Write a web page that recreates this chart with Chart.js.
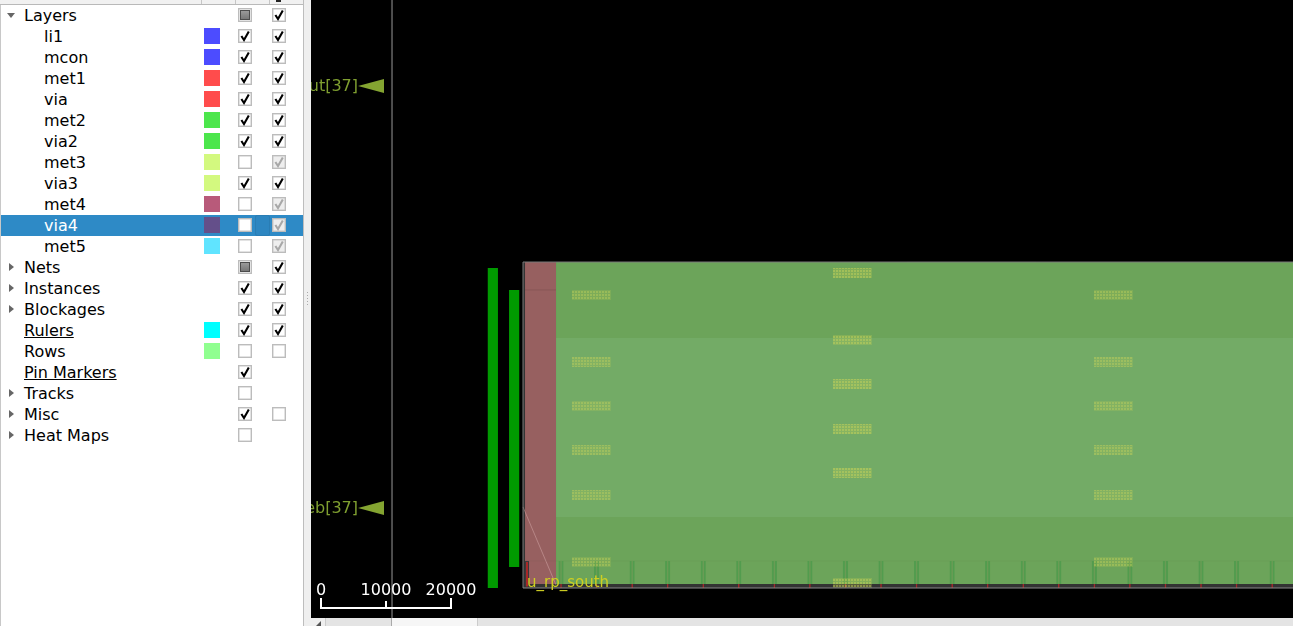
<!DOCTYPE html>
<html>
<head>
<meta charset="utf-8">
<title>Layout view</title>
<script src="https://cdn.jsdelivr.net/npm/chart.js@4"></script>
<style>
  html, body { margin: 0; padding: 0; width: 1293px; height: 626px; overflow: hidden; background: #efefef; }
  #panel { position: absolute; left: 0; top: 0; width: 303px; height: 626px; background: #fff; border-right: 1px solid #bdbdbd;
    font: 16px "DejaVu Sans", sans-serif; color: #000; overflow: hidden; box-shadow: inset 1px 0 0 #c8c8c8; }
  #header { position: absolute; left: 0; top: 0; width: 303px; height: 4px; background: #f1f1f1; border-bottom: 1px solid #b9b9b9; }
  .sep { position: absolute; top: 0; width: 1px; height: 4px; background: #c6c6c6; }
  .row { position: absolute; left: 1px; width: 302px; height: 21px; line-height: 20px; white-space: nowrap; }
  .row.selected { background: #2e8ac6; color: #fff; }
  .label { position: absolute; top: 1px; }
  .swatch { position: absolute; left: 203px; top: 2px; width: 16px; height: 16px; }
  .box { position: absolute; top: 3px; width: 12px; height: 12px; border: 1px solid #bcbcbc; box-shadow: inset 0 0 0 .5px #c8c8c8; background: #fff; }
  .box svg { position: absolute; left: 0; top: 0; }
  .box.off { background: #eee; }
  .partial { position: absolute; left: 1px; top: 1px; width: 8px; height: 8px; border: 1px solid #4c4c4c; background: linear-gradient(#9a9a9a, #777); }
  .hover { position: absolute; left: 254px; top: 0; width: 13px; height: 19px; border: 1px solid #2a7db4; background: #2d86c1; border-radius: 2px; }
  .arrow { position: absolute; width: 0; height: 0; }
  .arrow.right { left: 8px; top: 6px; border-left: 5px solid #666; border-top: 4px solid transparent; border-bottom: 4px solid transparent; }
  .arrow.down { left: 6px; top: 8px; border-top: 5px solid #666; border-left: 4px solid transparent; border-right: 4px solid transparent; }
  #grip { position: absolute; left: 307px; top: 292px; width: 1px; height: 14px; background: repeating-linear-gradient(#aaa 0 1px, transparent 1px 3px); }
  #view { position: absolute; left: 311px; top: 0; width: 982px; height: 618px; }
  #bar { position: absolute; left: 311px; top: 618px; width: 982px; height: 8px; background: #e4e4e4; }
  #bar div { position: absolute; top: 0; height: 8px; }
</style>
</head>
<body>
<div id="panel"><div id="header"></div></div>
<div id="grip"></div>
<div id="view"><canvas id="layoutChart" width="982" height="618"></canvas></div>
<div id="bar">
  <div style="left:0;width:14px;background:#efefef;border-right:1px solid #ccc"></div>
  <div style="left:5px;top:3px;width:0;height:0;border-right:5px solid #555;border-top:5px solid transparent"></div>
  <div style="left:80px;width:85px;background:#f6f6f6;border-left:1px solid #aaa;border-right:1px solid #ccc"></div>
</div>
<script>
// Control tree
const treeLabels = ["Layers", "li1", "mcon", "met1", "via", "met2", "via2", "met3", "via3", "met4", "via4", "met5",
  "Nets", "Instances", "Blockages", "Rulers", "Rows", "Pin Markers", "Tracks", "Misc", "Heat Maps"];
const treeLevels = [0, 1, 1, 1, 1, 1, 1, 1, 1, 1, 1, 1, 0, 0, 0, 0, 0, 0, 0, 0, 0];
const treeArrows = ["down", "", "", "", "", "", "", "", "", "", "", "", "right", "right", "right", "", "", "", "right", "right", "right"];
const treeSwatches = ["", "#4c4cff", "#4c4cff", "#ff4c4c", "#ff4c4c", "#4ce64c", "#4ce64c", "#d3f97f", "#d3f97f", "#b85a7a", "#644f8a", "#60e4ff",
  "", "", "", "#00ffff", "#90ff90", "", "", "", ""];
// 0 empty, 1 checked, 2 partial, 3 greyed check, -1 no box
const visibleStates = [2, 1, 1, 1, 1, 1, 1, 0, 1, 0, 0, 0, 2, 1, 1, 1, 0, 1, 0, 1, 0];
const selectStates = [1, 1, 1, 1, 1, 1, 1, 3, 1, 3, 3, 3, 1, 1, 1, 1, 0, -1, -1, 0, -1];
const underlined = ["Rulers", "Pin Markers"];
const selectedRow = "via4";

// Layout view, in design units (origin at the die's lower left corner)
const viewXMin = -32615, viewXMax = 118460, viewYMin = -4615, viewYMax = 90462;
const dieTop = 50150, dieBottom = 0, dieLeft = 0;
const stripRight = 5080, coreBottom = 615;
const bandEdges = [50150, 38460, 10920, 615];
const strapXs = [[-5460, -3850], [-2150, -540]];
const strapYs = [[0, 49230], [3230, 45850]];
const viaColumnXs = [7540, 47700, 87850];
const viaColumnWidth = 6000;
const viaRowsOuter = [45080, 34770, 28000, 21230, 14310, 4000];
const viaRowsMiddle = [48460, 38150, 31385, 24460, 17690, 770];
const stubXs = [5850, 11320, 16790, 22260, 27730, 33200, 38670, 44140, 49610, 55080, 60550, 66020, 71490,
  76960, 82430, 87900, 93370, 98840, 104310, 109780, 115250];
const stubTop = 4150;
const pinNames = ["out[37]", "eb[37]"];
const pinYs = [77233, 12308];
const pinTipX = -25385, pinBaseX = -21385;
const rulerX = -20150;
const scaleOrigin = -31077;
const scaleTicks = [0, 10000, 20000];
const instanceName = "u_rp_south";

function buildPanel() {
  const panel = document.getElementById("panel");
  [201, 235, 269].forEach((x) => {
    const s = document.createElement("div");
    s.className = "sep";
    s.style.left = x + "px";
    panel.appendChild(s);
  });
  // clipped header glyph
  const glyph = document.createElement("div");
  glyph.style.cssText = "position:absolute;left:276px;top:0;width:5px;height:2px;background:#222";
  panel.appendChild(glyph);

  treeLabels.forEach((name, i) => {
    const row = document.createElement("div");
    row.className = "row" + (name === selectedRow ? " selected" : "");
    row.style.top = 5 + 21 * i + "px";

    if (treeArrows[i]) {
      const a = document.createElement("div");
      a.className = "arrow " + treeArrows[i];
      row.appendChild(a);
    }
    const label = document.createElement("span");
    label.className = "label";
    label.textContent = name;
    label.style.left = (treeLevels[i] ? 43 : 23) + "px";
    if (underlined.includes(name)) label.style.textDecoration = "underline";
    row.appendChild(label);

    if (treeSwatches[i]) {
      const sw = document.createElement("div");
      sw.className = "swatch";
      sw.style.background = treeSwatches[i];
      row.appendChild(sw);
    }
    if (name === selectedRow) {
      const h = document.createElement("div");
      h.className = "hover";
      row.appendChild(h);
    }
    addBox(row, 237, visibleStates[i]);
    addBox(row, 271, selectStates[i]);
    panel.appendChild(row);
  });
}

function addBox(row, left, state) {
  if (state < 0) return;
  const box = document.createElement("div");
  box.className = "box" + (state === 3 ? " off" : "");
  box.style.left = left + "px";
  if (state === 1 || state === 3) {
    const stroke = state === 1 ? "#000" : "#a8a8a8";
    box.innerHTML = '<svg width="12" height="12"><path d="M2.4 6 L5 10 L9.8 1.6" fill="none" stroke="' + stroke + '" stroke-width="2.1"/></svg>';
  }
  if (state === 2) {
    const p = document.createElement("div");
    p.className = "partial";
    box.appendChild(p);
  }
  row.appendChild(box);
}

buildPanel();

// dotted fill for the via arrays
function viaPattern(alpha) {
  const c = document.createElement("canvas");
  c.width = 3;
  c.height = 3;
  const g = c.getContext("2d");
  g.fillStyle = "rgba(190,205,85," + (alpha * 0.65) + ")";
  g.fillRect(0, 0, 3, 3);
  g.fillStyle = "rgba(205,215,90," + alpha + ")";
  g.fillRect(0, 0, 2, 2);
  return g.createPattern(c, "repeat");
}

const datasets = [];

function addRect(x0, x1, y0, y1, color) {
  datasets.push({
    data: [{ x: x0, y: y1 }, { x: x1, y: y1 }],
    fill: { value: y0 },
    backgroundColor: color,
    borderColor: "transparent",
    borderWidth: 0,
    pointRadius: 0
  });
}

function addLine(points, color, width) {
  datasets.push({
    data: points,
    fill: false,
    borderColor: color,
    borderWidth: width,
    pointRadius: 0,
    tension: 0
  });
}

// fills from the sloped edge to a flat base, two of these make a pin marker
function addWedge(x0, y0, x1, y1, color) {
  datasets.push({
    data: [{ x: x0, y: y0 }, { x: x1, y: y1 }],
    fill: { value: y0 },
    backgroundColor: color,
    borderColor: "transparent",
    borderWidth: 0,
    pointRadius: 0
  });
}

addLine([{ x: rulerX, y: viewYMin }, { x: rulerX, y: viewYMax }], "#666666", 1.5);

// power straps
strapXs.forEach((xs, i) => addRect(xs[0], xs[1], strapYs[i][0], strapYs[i][1], "#009a00"));

// die background
addRect(dieLeft, viewXMax, dieBottom, dieTop, "#333333");
addRect(stripRight, viewXMax, bandEdges[1], bandEdges[0], "#6ca45a");
addRect(stripRight, viewXMax, bandEdges[2], bandEdges[1], "#73ab66");
addRect(stripRight, viewXMax, bandEdges[3], bandEdges[2], "#6ca45a");
addRect(310, stripRight, coreBottom, dieTop, "#976060");
addLine([{ x: 310, y: 45850 }, { x: stripRight, y: 45850 }], "rgba(70,40,40,0.18)", 1);
addLine([{ x: dieLeft, y: 12460 }, { x: stripRight, y: 460 }], "rgba(230,190,190,0.4)", 1);
addLine([{ x: dieLeft, y: stubTop }, { x: viewXMax, y: stubTop }], "rgba(60,90,50,0.06)", 1);

// pin stubs along the south edge
const stubHalf = 400, stubInner = 130;
stubXs.forEach((x) => {
  addRect(x - stubHalf, x + stubHalf, coreBottom, stubTop, "#529c4e");
  addRect(x - stubInner, x + stubInner, coreBottom, stubTop, "#6a9c55");
  addRect(x - stubInner, x + stubInner, 0, coreBottom, "#a02a2a");
});
addRect(310, 920, 250, stubTop, "#3a3a3a");
addRect(460, 770, 250, stubTop - 150, "#a82828");

// via arrays
const patterns = [viaPattern(0.42), viaPattern(0.33)];
const viaHalfHeight = 770;
viaColumnXs.forEach((x, c) => {
  const rows = c === 1 ? viaRowsMiddle : viaRowsOuter;
  rows.forEach((y) => addRect(x, x + viaColumnWidth, y - viaHalfHeight, y + viaHalfHeight, patterns[c === 1 ? 0 : 1]));
});

// die outline
addLine([{ x: dieLeft, y: dieBottom }, { x: dieLeft, y: dieTop }, { x: viewXMax, y: dieTop }], "#7a7a7a", 1);
addLine([{ x: dieLeft, y: dieBottom }, { x: viewXMax, y: dieBottom }], "#8a8a8a", 1);

// pin markers
const pinHalf = 1077;
pinYs.forEach((y) => {
  addWedge(pinTipX, y, pinBaseX, y + pinHalf, "#84a431");
  addWedge(pinTipX, y, pinBaseX, y - pinHalf, "#84a431");
});

// scale bar
const scaleTop = -1538, scaleMid = -2000, scaleBottom = -3077;
const scaleEnd = scaleOrigin + scaleTicks[scaleTicks.length - 1];
addLine([{ x: scaleOrigin, y: scaleTop }, { x: scaleOrigin, y: scaleBottom }, { x: scaleEnd, y: scaleBottom }, { x: scaleEnd, y: scaleTop }], "#ffffff", 2);
addLine([{ x: scaleOrigin + scaleTicks[1], y: scaleMid }, { x: scaleOrigin + scaleTicks[1], y: scaleBottom }], "#ffffff", 2);

// first dataset is painted on top by default, keep the order above bottom-up
datasets.forEach((d, i) => { d.order = -i; });

const viewLabels = {
  id: "viewLabels",
  afterDatasetsDraw(chart) {
    const { ctx, scales } = chart;
    ctx.save();
    ctx.font = '16px "DejaVu Sans", sans-serif';
    ctx.textBaseline = "middle";

    ctx.textAlign = "right";
    ctx.fillStyle = "#7f9f30";
    pinNames.forEach((name, i) => {
      ctx.fillText(name, scales.x.getPixelForValue(pinTipX), scales.y.getPixelForValue(pinYs[i]) + 1);
    });

    ctx.textAlign = "center";
    ctx.fillStyle = "#ffffff";
    scaleTicks.forEach((t) => {
      ctx.fillText(String(t), scales.x.getPixelForValue(scaleOrigin + t), scales.y.getPixelForValue(-450));
    });

    ctx.font = '15px "DejaVu Sans", sans-serif';
    ctx.textAlign = "left";
    ctx.fillStyle = "#cfcf22";
    ctx.fillText(instanceName, scales.x.getPixelForValue(615), scales.y.getPixelForValue(800));
    ctx.restore();
  }
};

new Chart(document.getElementById("layoutChart").getContext("2d"), {
  type: "line",
  data: { datasets: datasets },
  plugins: [viewLabels],
  options: {
    responsive: false,
    animation: false,
    devicePixelRatio: 1,
    layout: { padding: 0 },
    events: [],
    plugins: { legend: { display: false }, tooltip: { enabled: false } },
    scales: {
      x: { type: "linear", display: false, min: viewXMin, max: viewXMax },
      y: { type: "linear", display: false, min: viewYMin, max: viewYMax }
    }
  },
});
document.getElementById("layoutChart").style.background = "#000";
</script>
</body>
</html>
